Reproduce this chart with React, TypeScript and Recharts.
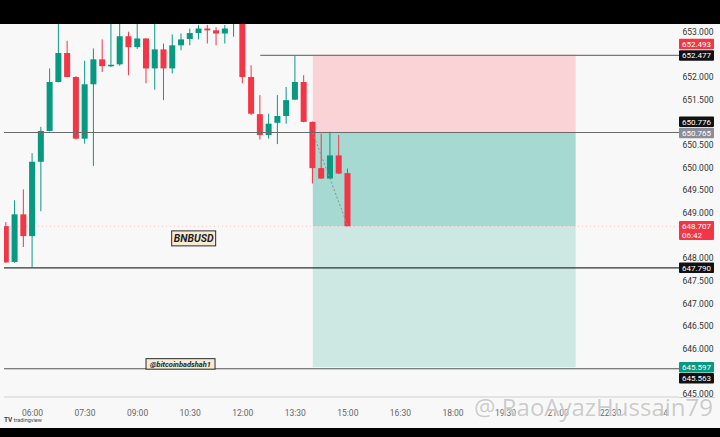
import React from 'react';
import {
  ComposedChart,
  Bar,
  XAxis,
  YAxis,
  ReferenceLine,
  ReferenceArea,
  ReferenceDot,
} from 'recharts';

// 15 minute bars, index 0 = 06:00
const barIndex = [
  -3, -2, -1, 0, 1, 2, 3, 4, 5, 6, 7, 8, 9, 10, 11, 12, 13, 14, 15, 16,
  17, 18, 19, 20, 21, 22, 23, 24, 25, 26, 27, 28, 29, 30, 31, 32, 33, 34, 35, 36,
];
const opens = [
  648.71, 647.92, 648.97, 648.49, 650.13, 650.81, 651.89, 652.53, 652.0, 650.64,
  651.84, 652.39, 652.24, 652.28, 652.9, 652.66, 652.85, 652.19, 652.61, 652.19,
  652.7, 652.84, 652.97, 653.07, 653.03, 652.96, 653.22, 653.25, 652.0, 651.18,
  650.72, 650.99, 651.14, 651.5, 651.89, 651.01, 649.99, 649.76, 650.27, 649.88,
];
const highs = [
  648.8, 649.28, 649.52, 650.32, 650.9, 652.19, 653.3, 652.8, 652.02, 652.36,
  652.63, 652.83, 653.3, 653.25, 653.0, 653.2, 652.86, 653.3, 652.74, 652.94,
  652.96, 653.07, 653.15, 653.15, 653.1, 653.15, 653.35, 653.3, 652.26, 651.6,
  651.19, 651.6, 651.78, 652.48, 652.04, 651.02, 650.75, 650.79, 650.72, 649.98,
];
const lows = [
  647.9, 647.9, 648.25, 647.81, 649.04, 650.8, 651.88, 652.0, 650.62, 650.53,
  650.04, 652.11, 652.22, 652.25, 652.04, 652.62, 651.86, 651.72, 651.49, 652.08,
  652.59, 652.7, 652.83, 652.74, 652.7, 652.74, 652.89, 651.86, 651.16, 650.62,
  650.64, 650.52, 650.97, 651.49, 651.0, 649.65, 649.75, 649.75, 649.86, 648.707,
];
const closes = [
  647.91, 648.97, 648.49, 650.13, 650.81, 651.89, 652.53, 652.0, 650.64, 651.84,
  652.39, 652.24, 652.27, 652.9, 652.66, 652.85, 652.19, 652.61, 652.19, 652.7,
  652.83, 652.97, 653.07, 653.03, 652.96, 653.07, 653.28, 652.0, 651.19, 650.72,
  650.97, 651.14, 651.49, 651.89, 651.01, 649.99, 649.76, 650.27, 649.87, 648.707,
];

const timeTicks = [0, 6, 12, 18, 24, 30, 36, 42, 48, 54, 60, 66, 72];
const timeLabels = [
  '06:00', '07:30', '09:00', '10:30', '12:00', '13:30', '15:00',
  '16:30', '18:00', '19:30', '21:00', '22:30', '14',
];
const priceTicks = [653, 652, 651.5, 650.5, 650, 649.5, 649, 648, 647.5, 647, 646.5, 646, 645];

// position tool + drawings
const stopPrice = 652.493;
const entryPrice = 650.765;
const targetPrice = 645.597;
const lastPrice = 648.707;
const countdown = '06:42';
const rayPrice = 652.477;
const lineA = 650.776;
const lineB = 647.79;
const lineC = 645.563;
const positionBars = [32, 62];
const rayStartBar = 26;
const lastBar = 36;

const GREEN = '#089981';
const RED = '#f23645';

const rows = barIndex.map((k, i) => ({
  k,
  open: opens[i],
  high: highs[i],
  low: lows[i],
  close: closes[i],
  range: [lows[i], highs[i]],
}));

const Candle = (props: any) => {
  const { x, y, width, height, payload } = props;
  if (payload == null) return null;
  const top = Math.min(y, y + height);
  const h = Math.abs(height);
  const span = payload.high - payload.low || 1;
  const py = (v: number) => top + ((payload.high - v) / span) * h;
  const up = payload.close >= payload.open;
  const color = up ? GREEN : RED;
  const cx = x + width / 2;
  const bTop = py(Math.max(payload.open, payload.close));
  const bBot = py(Math.min(payload.open, payload.close));
  return (
    <g>
      <line x1={cx} x2={cx} y1={top} y2={top + h} stroke={color} strokeWidth={1} />
      <rect x={cx - 3} y={bTop} width={6} height={Math.max(1.5, bBot - bTop)} fill={color} />
    </g>
  );
};

const AXIS_X = 679;

const priceTag = (text: string, bg: string, dy: number, sub?: string) => (p: any) => {
  const y = p.viewBox.y + dy;
  const h = sub ? 19 : 10.5;
  return (
    <g>
      <rect x={AXIS_X} y={y - 5.25} width={35} height={h} fill={bg} rx={1} />
      <text x={AXIS_X + 17.5} y={y + 3} textAnchor="middle" fill="#fff" fontSize={8} fontFamily="Roboto, sans-serif">
        {text}
      </text>
      {sub && (
        <text x={AXIS_X + 3} y={y + 11.5} fill="#fff" fontSize={8} fontFamily="Roboto, sans-serif">
          {sub}
        </text>
      )}
    </g>
  );
};

const noteBox = (text: string, w: number, h: number, fs: number) => (p: any) => (
  <g>
    <rect x={p.cx - w / 2} y={p.cy - h / 2} width={w} height={h} fill="#f6ecd6" stroke="#2b2b2b" strokeWidth={1} />
    <text
      x={p.cx}
      y={p.cy + fs * 0.36}
      textAnchor="middle"
      fontSize={fs}
      fontStyle="italic"
      fontWeight="bold"
      fill="#1e1e1e"
      fontFamily="Roboto, sans-serif"
    >
      {text}
    </text>
  </g>
);

const PriceTick = (p: any) => (
  <text x={AXIS_X + 19} y={p.y + 3} textAnchor="middle" fontSize={8.5} fill="#333" fontFamily="Roboto, sans-serif">
    {Number(p.payload.value).toFixed(3)}
  </text>
);

const TimeTick = (p: any) => {
  const idx = timeTicks.indexOf(p.payload.value);
  return (
    <text x={p.x} y={p.y + 11} textAnchor="middle" fontSize={8.5} fill="#666" fontFamily="Roboto, sans-serif">
      {timeLabels[idx]}
    </text>
  );
};

export default function App() {
  return (
    <div style={{ position: 'absolute', left: 0, top: 0, width: 720, height: 437, background: '#f8f8f8', overflow: 'hidden' }}>
      <ComposedChart
        width={720}
        height={437}
        data={rows}
        margin={{ top: 24, right: 0, bottom: 9, left: 4 }}
      >
        <XAxis
          dataKey="k"
          type="number"
          domain={[-3.25, 73.8]}
          allowDataOverflow
          ticks={timeTicks}
          interval={0}
          tick={<TimeTick />}
          tickLine={false}
          axisLine={{ stroke: '#cfcfcf' }}
          height={31}
        />
        <YAxis
          orientation="right"
          type="number"
          domain={[644.94, 653.17]}
          allowDataOverflow
          ticks={priceTicks}
          interval={0}
          tick={<PriceTick />}
          tickLine={false}
          axisLine={false}
          width={41}
        />

        <ReferenceArea x1={positionBars[0]} x2={positionBars[1]} y1={entryPrice} y2={stopPrice} fill="#f9d3d6" fillOpacity={1} stroke="none" />
        <ReferenceArea x1={positionBars[0]} x2={positionBars[1]} y1={lastPrice} y2={entryPrice} fill="#a6d9d1" fillOpacity={1} stroke="none" />
        <ReferenceArea x1={positionBars[0]} x2={positionBars[1]} y1={targetPrice} y2={lastPrice} fill="#cde8e3" fillOpacity={1} stroke="none" />

        <ReferenceLine y={lastPrice} stroke={RED} strokeOpacity={0.25} strokeDasharray="1 3" label={priceTag(lastPrice.toFixed(3), RED, 0, countdown)} />

        <Bar dataKey="range" barSize={6} shape={<Candle />} isAnimationActive={false} />

        <ReferenceLine
          segment={[{ x: positionBars[0], y: entryPrice }, { x: lastBar, y: lastPrice }]}
          stroke="#8a8d96"
          strokeDasharray="2 2"
        />
        <ReferenceLine
          segment={[{ x: rayStartBar, y: rayPrice }, { x: 73.8, y: rayPrice }]}
          stroke="#7a7a7a"
          strokeWidth={1.3}
          label={priceTag(rayPrice.toFixed(3), '#111', 0)}
        />
        <ReferenceLine y={stopPrice} stroke="none" label={priceTag(stopPrice.toFixed(3), RED, -10.7)} />
        <ReferenceLine y={lineA} stroke="#6a6a6a" strokeWidth={1.2} label={priceTag(lineA.toFixed(3), '#111', -10.8)} />
        <ReferenceLine y={entryPrice} stroke="none" label={priceTag(entryPrice.toFixed(3), '#8b8e98', 0)} />
        <ReferenceLine y={lineB} stroke="#333" strokeWidth={1.2} label={priceTag(lineB.toFixed(3), '#111', 0)} />
        <ReferenceLine y={targetPrice} stroke="none" label={priceTag(targetPrice.toFixed(3), GREEN, 0)} />
        <ReferenceLine y={lineC} stroke="#555" strokeWidth={1.2} label={priceTag(lineC.toFixed(3), '#111', 9.5)} />

        <ReferenceDot x={18.4} y={648.44} r={0} shape={noteBox('BNBUSD', 44, 15, 10.5)} />
        <ReferenceDot x={16.9} y={645.67} r={0} shape={noteBox('@bitcoinbadshah1', 69, 10.5, 7.5)} />
      </ComposedChart>

      <div style={{ position: 'absolute', left: 679, top: 397, width: 36, height: 1, background: '#cfcfcf' }} />
      <div style={{ position: 'absolute', left: 4, top: 416, fontFamily: 'Roboto, sans-serif', fontSize: 5.5, color: '#444', whiteSpace: 'nowrap' }}>
        <b style={{ fontSize: 6.5 }}>TV</b> tradingview
      </div>
      <div
        style={{
          position: 'absolute',
          left: 474,
          top: 395,
          fontFamily: '"Open Sans", sans-serif',
          fontSize: 24,
          lineHeight: 1,
          color: 'rgba(190,190,190,0.8)',
          whiteSpace: 'nowrap',
          textShadow: '0 0 2px #fff',
        }}
      >
        @ RaoAyazHussain79
      </div>
      <div style={{ position: 'absolute', left: 0, top: 0, width: 720, height: 24, background: '#000' }} />
      <div style={{ position: 'absolute', left: 0, top: 428, width: 720, height: 9, background: '#000' }} />
    </div>
  );
}
